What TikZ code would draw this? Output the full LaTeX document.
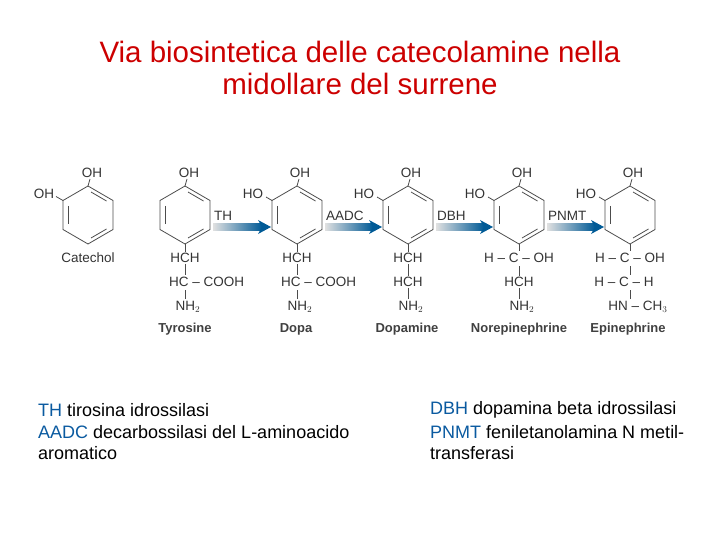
\documentclass[tikz,border=0pt]{standalone}
\usepackage{fontspec}
\setmainfont{Liberation Sans}
\usetikzlibrary{calc}
\begin{document}
\begin{tikzpicture}[x=1pt,y=-1pt,
  chem/.style={font=\fontsize{13.5}{15}\selectfont, inner sep=1pt, text=black!80},
  mol/.style={font=\bfseries\fontsize{13}{15}\selectfont, text=black!75},
  enz/.style={font=\fontsize{13.5}{15}\selectfont, text=black!80},
  leg/.style={font=\fontsize{18}{20}\selectfont, anchor=west, inner sep=0pt},
  bond/.style={draw=black!70, line width=0.8pt}]
\useasboundingbox (0,0) rectangle (720,540);
\definecolor{ttl}{RGB}{204,0,0}
\definecolor{abl}{RGB}{0,90,150}
\definecolor{lbl}{RGB}{10,90,160}
\node[font=\fontsize{29.5}{32}\selectfont, text=ttl, align=center] (title) at (360,68) {Via biosintetica delle catecolamine nella\\midollare del surrene};
\newcommand{\ring}[3]{%
  \coordinate (#1) at (#2,#3);
  \draw[bond] (#2,#3-29) -- ++(25,14.5) -- ++(0,29) -- ++(-25,14.5) -- ++(-25,-14.5) -- ++(0,-29) -- cycle;
  \draw[bond] (#2-20,#3-9) -- (#2-20,#3+9);
  \draw[bond] (#2+3,#3-23) -- (#2+18.5,#3-14);
  \draw[bond] (#2+3,#3+23) -- (#2+18.5,#3+14);
  \draw[bond] (#2,#3-29) -- (#2+2,#3-36);
}
\ring{cat}{88}{215}
\ring{tyr}{185}{215}
\ring{dopa}{297}{215}
\ring{dopam}{408}{215}
\ring{ne}{519}{215}
\ring{epi}{630}{215}
\foreach \n/\x in {cat/92,tyr/189,dopa/300,dopam/411,ne/522,epi/633}{
  \node[chem] (oh\n) at (\x,173) {OH};}
\node[chem] (hocat) at (44,194) {OH};
\draw[bond] (63,200.5) -- (56,196.5);
\foreach \n/\x in {dopa/297,dopam/408,ne/519,epi/630}{
  \node[chem] (ho\n) at (\x-44,194) {HO};
  \draw[bond] (\x-25,200.5) -- (\x-31,197);}
\node[chem] (catname) at (88,258) {Catechol};
\foreach \n/\x in {tyr/185,dopa/297}{
  \node[chem] (a\n) at (\x,258) {HCH};
  \node[chem,anchor=west] (b\n) at (\x-17,282) {HC -- COOH};
  \node[chem] (c\n) at (\x+3,307) {NH$_2$};
  \draw[bond] (\x,244) -- (a\n.north);
  \draw[bond] (a\n.south) -- (\x,275);
  \draw[bond] (\x,290) -- (\x,299);}
\node[chem] (adopam) at (408,258) {HCH};
\node[chem] (bdopam) at (408,282) {HCH};
\node[chem] (cdopam) at (411,307) {NH$_2$};
\draw[bond] (408,244) -- (adopam.north) (adopam.south) -- (bdopam.north) (bdopam.south) -- (408,299);
\node[chem] (ane) at (519,258) {H -- C -- OH};
\node[chem] (bne) at (519,282) {HCH};
\node[chem] (cne) at (522,307) {NH$_2$};
\draw[bond] (519,244) -- (519,251) (519,266) -- (bne.north) (bne.south) -- (519,299);
\node[chem] (aepi) at (630,258) {H -- C -- OH};
\node[chem] (bepi) at (624,282) {H -- C -- H};
\node[chem] (cepi) at (638,307) {HN -- CH$_3$};
\draw[bond] (630,244) -- (630,251) (630,266) -- (630,275) (630,290) -- (630,299);
\node[mol] (ntyr) at (185,329) {Tyrosine};
\node[mol] (ndopa) at (296,329) {Dopa};
\node[mol] (ndopam) at (407,329) {Dopamine};
\node[mol] (nne) at (519,329) {Norepinephrine};
\node[mol] (nepi) at (628,329) {Epinephrine};
\foreach \a/\b/\lab in {tyr/dopa/TH,dopa/dopam/AADC,dopam/ne/DBH,ne/epi/PNMT}{
  \coordinate (s\a) at ($(\a)+(28,12)$);
  \coordinate (e\a) at ($(\b)+(-26,12)$);
  \shade[left color=black!12, right color=abl] ($(s\a)+(0,-3.5)$) rectangle ($(e\a)+(-9,3.5)$);
  \fill[abl] ($(e\a)+(-13,-7)$) -- (e\a) -- ($(e\a)+(-13,7)$) -- ($(e\a)+(-9,0)$) -- cycle;
  \node[enz, anchor=south west, inner sep=0pt] (l\a) at ($(s\a)+(1,-6)$) {\lab};}
\node[leg] (l1) at (38,410) {\textcolor{lbl}{TH} tirosina idrossilasi};
\node[leg] (l2) at (38,432) {\textcolor{lbl}{AADC} decarbossilasi del L-aminoacido};
\node[leg] (l3) at (38,453) {aromatico};
\node[leg] (r1) at (430,410) {\textcolor{lbl}{DBH} dopamina beta idrossilasi};
\node[leg] (r2) at (430,432) {\textcolor{lbl}{PNMT} feniletanolamina N metil-};
\node[leg] (r3) at (430,453) {transferasi};
\end{tikzpicture}
\end{document}
